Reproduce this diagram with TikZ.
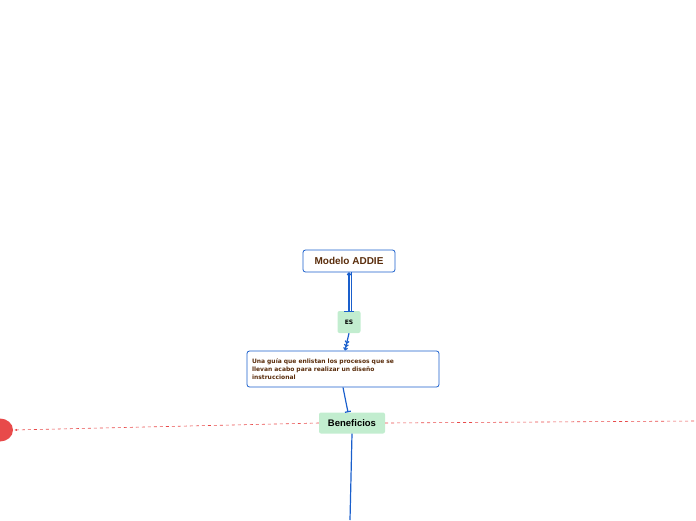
\documentclass[tikz,border=0pt]{standalone}
\usepackage{fontspec}
\setmainfont{Liberation Sans}
\newfontfamily\dv{DejaVu Sans}
\usetikzlibrary{arrows.meta}
\definecolor{bl}{HTML}{1A5FCC}
\definecolor{br}{HTML}{5A2D0C}
\definecolor{gr}{HTML}{C2EDCF}
\definecolor{rd}{HTML}{E84A4A}
\begin{document}
\begin{tikzpicture}[x=1pt,y=-1pt,
 bbox/.style={draw=bl,fill=white,rounded corners=2.5pt,line width=0.8pt,text=br,font=\bfseries},
 gbox/.style={fill=gr,rounded corners=2pt,font=\bfseries},
 conn/.style={draw=bl,line width=1.2pt},
 rdash/.style={draw=rd,dashed,line width=0.6pt}]
\useasboundingbox (0,0) rectangle (696,520);
\node[bbox,minimum width=92pt,minimum height=22pt,font=\bfseries\fontsize{10}{12}\selectfont] (m) at (349,261) {Modelo ADDIE};
\node[gbox,minimum width=23pt,minimum height=22pt,font=\dv\bfseries\fontsize{6}{7}\selectfont] (es) at (349,322) {ES};
\node[bbox,minimum width=192pt,minimum height=36pt,text width=182pt,align=left,font=\dv\bfseries\fontsize{6}{8}\selectfont] (t) at (343,369) {Una guía que enlistan los procesos que se\\ llevan acabo para realizar un diseño\\ instruccional};
\node[gbox,minimum width=66pt,minimum height=21pt,font=\bfseries\fontsize{9.5}{11}\selectfont] (b) at (352,423) {Beneficios};
\coordinate (bot) at (350,520);
\coordinate (re) at (696,421);
\fill[rd] (0,430) ellipse (13pt and 11.5pt);
\coordinate (le) at (14,430);
\draw[conn,{Circle[length=4pt]}-{Bar[width=10pt]}] ([xshift=0pt]m.south) -- ([yshift=-1pt]es.north);
\draw[bl,line width=0.6pt] ([xshift=2pt]m.south) -- ([xshift=2pt]es.north);
\draw[conn,-{Straight Barb[length=2pt]Straight Barb[length=2pt]Straight Barb[length=2pt]}] (es.south) -- ([xshift=2pt]t.north);
\draw[conn,-{Bar[width=6pt]}] (t.south) -- ([xshift=-4pt]b.north);
\draw[conn] (b.south) -- (bot);
\draw[rdash,-{Latex[length=3pt]}] (b.west) -- (le);
\draw[rdash] (b.east) -- (re);
\end{tikzpicture}
\end{document}
